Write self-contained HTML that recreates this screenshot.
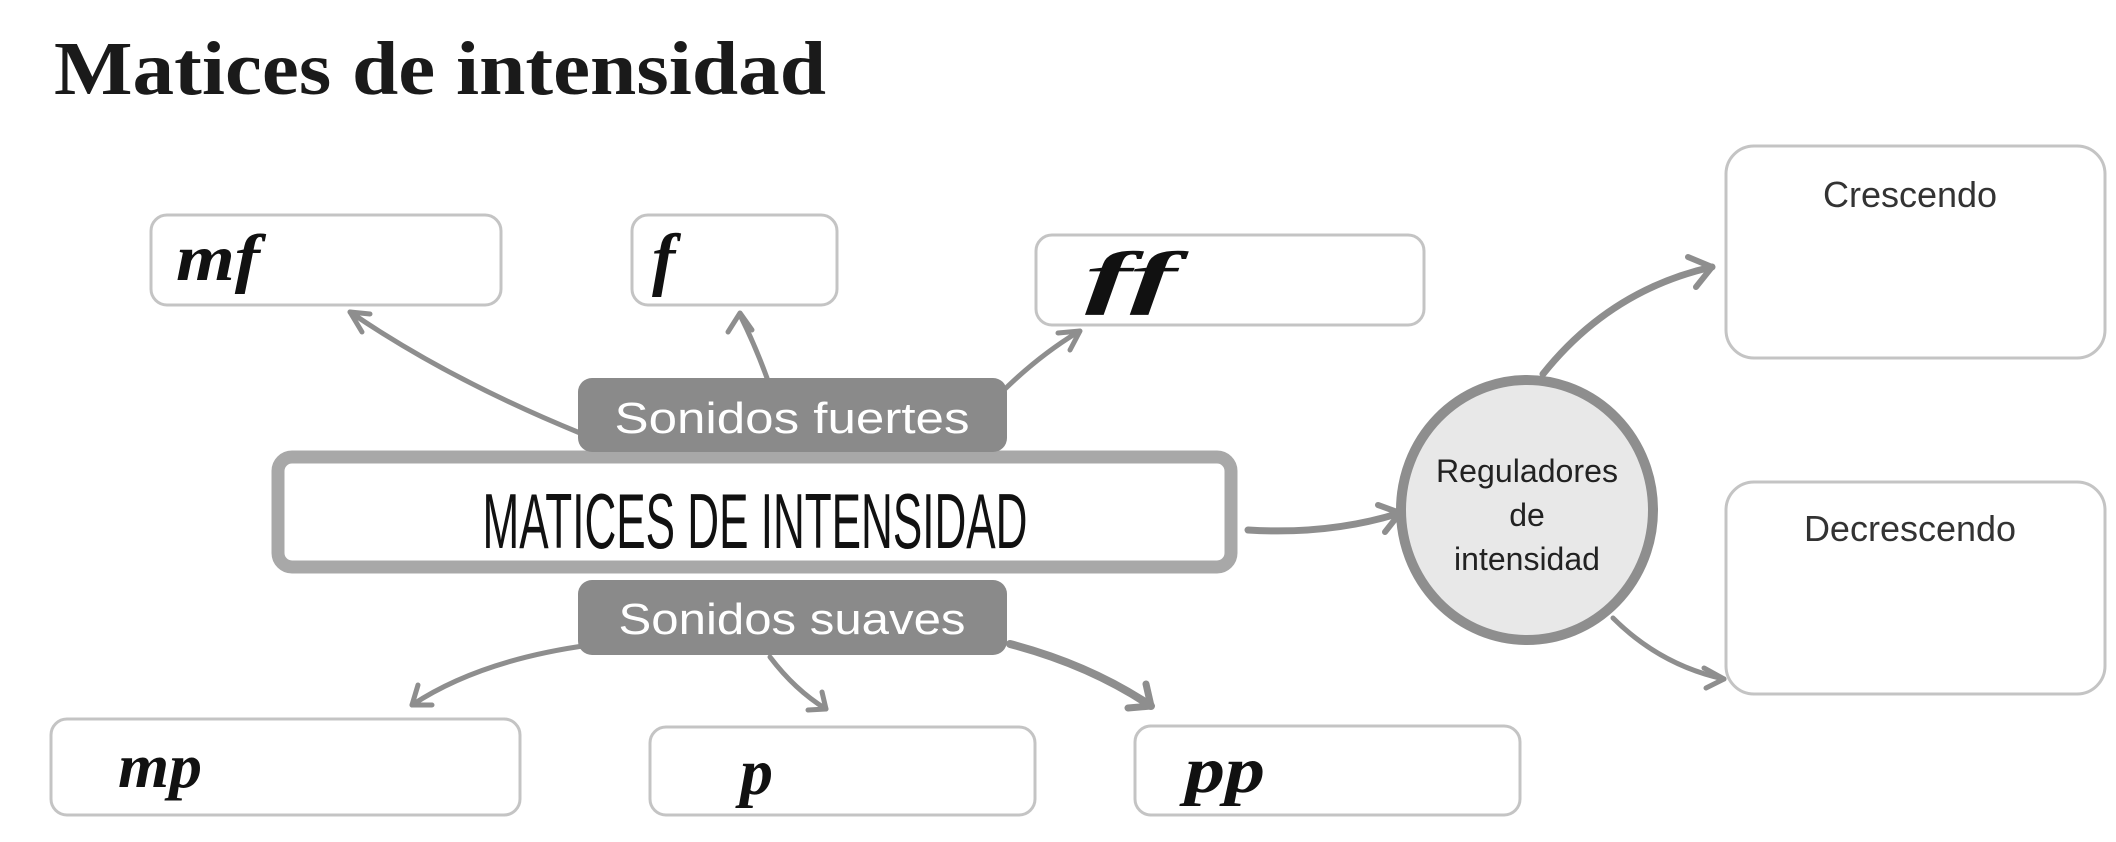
<!DOCTYPE html>
<html><head><meta charset="utf-8"><style>
html,body{margin:0;padding:0;background:#fff;}
svg{display:block}
</style></head><body>
<svg width="2116" height="842" viewBox="0 0 2116 842" xmlns="http://www.w3.org/2000/svg">
<rect width="2116" height="842" fill="#fff"/>
<text x="54" y="94" font-family="Liberation Serif, serif" font-weight="bold" font-size="76" fill="#1a1a1a" textLength="772" lengthAdjust="spacingAndGlyphs">Matices de intensidad</text>

<g fill="#fff" stroke="#c4c4c4" stroke-width="3">
<rect x="151" y="215" width="350" height="90" rx="16"/>
<rect x="632" y="215" width="205" height="90" rx="16"/>
<rect x="1036" y="235" width="388" height="90" rx="16"/>
<rect x="1726" y="146" width="379" height="212" rx="28"/>
<rect x="1726" y="482" width="379" height="212" rx="28"/>
<rect x="51" y="719" width="469" height="96" rx="16"/>
<rect x="650" y="727" width="385" height="88" rx="16"/>
<rect x="1135" y="726" width="385" height="89" rx="16"/>
</g>

<g font-family="Liberation Serif, serif" font-weight="bold" font-style="italic" fill="#111">
<text x="176" y="280" font-size="66" textLength="84" lengthAdjust="spacingAndGlyphs">mf</text>
<text x="652" y="282" font-size="70">f</text>
<text x="1085" y="300" font-size="70" textLength="92" lengthAdjust="spacingAndGlyphs">ff</text>
<text x="118" y="787" font-size="62" textLength="84" lengthAdjust="spacingAndGlyphs">mp</text>
<text x="740" y="794" font-size="66">p</text>
<text x="1185" y="792" font-size="66" textLength="80" lengthAdjust="spacingAndGlyphs">pp</text>
</g>
<g font-family="Liberation Sans, sans-serif" font-size="36" fill="#333" text-anchor="middle">
<text x="1910" y="207">Crescendo</text>
<text x="1910" y="541">Decrescendo</text>
</g>

<g fill="none" stroke="#8e8e8e" stroke-width="5" stroke-linecap="round" stroke-linejoin="round">
<path d="M580 433 Q450 380 350 312"/>
<path d="M370 314 L350 312 L362 332"/>
<path d="M767 378 Q755 345 740 315"/>
<path d="M728 332 L740 313 L752 330"/>
<path d="M1005 389 Q1040 355 1078 332"/>
<path d="M1058 333 L1080 331 L1070 350"/>
<path d="M590 645 Q480 660 412 705"/>
<path d="M418 685 L412 705 L432 705"/>
<path d="M770 657 Q795 690 826 709"/>
<path d="M808 710 L826 709 L822 692"/>
<path d="M1010 644 Q1090 665 1151 706" stroke-width="8"/>
<path d="M1128 708 L1151 706 L1146 684" stroke-width="7"/>
<path d="M1248 530 Q1330 535 1400 513" stroke-width="7"/>
<path d="M1378 505 L1400 513 L1385 532" stroke-width="6"/>
<path d="M1543 374 Q1610 290 1712 267" stroke-width="7"/>
<path d="M1688 257 L1712 267 L1696 287" stroke-width="6"/>
<path d="M1613 618 Q1660 665 1724 679"/>
<path d="M1704 668 L1724 679 L1706 688"/>
</g>

<rect x="278" y="457" width="953" height="110" rx="14" fill="#fff" stroke="#a8a8a8" stroke-width="13"/>
<text x="755" y="548" text-anchor="middle" font-family="Liberation Sans Narrow, Liberation Sans, sans-serif" font-size="78" fill="#111" textLength="545" lengthAdjust="spacingAndGlyphs">MATICES DE INTENSIDAD</text>

<rect x="578" y="378" width="429" height="74" rx="14" fill="#8a8a8a"/>
<rect x="578" y="580" width="429" height="75" rx="14" fill="#8a8a8a"/>
<g font-family="Liberation Sans, sans-serif" font-size="44" fill="#fff" text-anchor="middle">
<text x="792" y="433" textLength="355" lengthAdjust="spacingAndGlyphs">Sonidos fuertes</text>
<text x="792" y="634" textLength="347" lengthAdjust="spacingAndGlyphs">Sonidos suaves</text>
</g>

<ellipse cx="1527" cy="510" rx="126" ry="130" fill="#e8e8e8" stroke="#8e8e8e" stroke-width="10"/>
<g font-family="Liberation Sans, sans-serif" font-size="32" fill="#222" text-anchor="middle">
<text x="1527" y="482" textLength="182" lengthAdjust="spacingAndGlyphs">Reguladores</text>
<text x="1527" y="526">de</text>
<text x="1527" y="570">intensidad</text>
</g>
</svg>
</body></html>
